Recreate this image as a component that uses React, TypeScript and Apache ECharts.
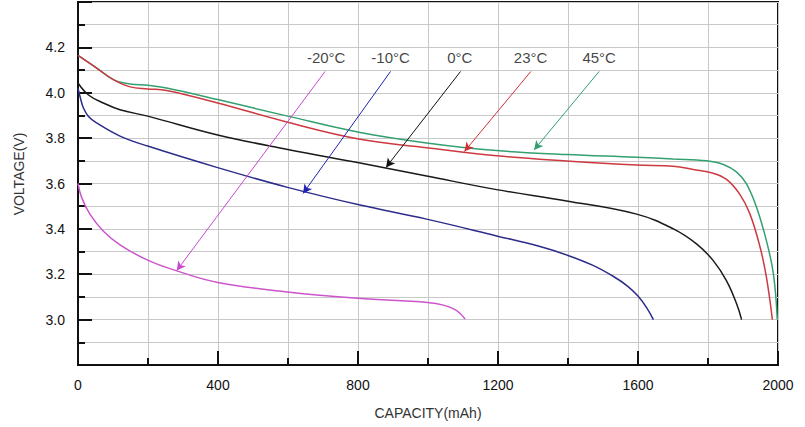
import React, { useEffect, useRef } from "react";
import * as echarts from "echarts";

// Discharge curves: [capacity (mAh), voltage (V)]
const curve45: number[][] = [
  [0, 4.165], [53, 4.11], [101, 4.058], [149, 4.039], [199, 4.033], [253, 4.021],
  [399, 3.97], [599, 3.897], [806, 3.825], [996, 3.779], [1196, 3.745], [1396, 3.728],
  [1596, 3.716], [1700, 3.708], [1796, 3.7], [1844, 3.684], [1882, 3.65], [1910, 3.598],
  [1939, 3.494], [1967, 3.347], [1987, 3.2], [1998, 3.0],
];
const curve23: number[][] = [
  [0, 4.165], [53, 4.109], [101, 4.058], [149, 4.026], [199, 4.017], [253, 4.01],
  [399, 3.955], [599, 3.87], [806, 3.795], [996, 3.758], [1196, 3.722], [1396, 3.699],
  [1596, 3.681], [1701, 3.676], [1758, 3.662], [1815, 3.645], [1853, 3.618], [1891, 3.552],
  [1920, 3.465], [1949, 3.318], [1967, 3.186], [1984, 3.0],
];
const curve0: number[][] = [
  [0, 4.043], [30, 3.99], [72, 3.955], [120, 3.925], [199, 3.897], [399, 3.814],
  [599, 3.75], [806, 3.69], [996, 3.633], [1196, 3.573], [1396, 3.523], [1596, 3.465],
  [1701, 3.4], [1768, 3.333], [1815, 3.26], [1853, 3.171], [1882, 3.069], [1896, 3.0],
];
const curveM10: number[][] = [
  [0, 4.02], [8, 3.97], [15, 3.935], [30, 3.895], [53, 3.867], [120, 3.809],
  [199, 3.765], [399, 3.67], [599, 3.583], [806, 3.505], [996, 3.443], [1196, 3.369],
  [1320, 3.322], [1400, 3.283], [1470, 3.24], [1530, 3.19], [1570, 3.148], [1600, 3.104],
  [1625, 3.052], [1644, 3.0],
];
const curveM20: number[][] = [
  [0, 3.6], [10, 3.54], [34, 3.465], [72, 3.391], [120, 3.33], [199, 3.262],
  [282, 3.215], [399, 3.164], [599, 3.122], [799, 3.094], [999, 3.076], [1044, 3.064],
  [1082, 3.04], [1106, 3.003],
];

const seriesNames = ["45°C", "23°C", "0°C", "-10°C", "-20°C"];
const seriesColors = ["#34a070", "#cc3a40", "#1a1a1a", "#2c2c8a", "#cc55cc"];
const arrowColors = ["#34a070", "#d03038", "#111111", "#2222b0", "#c848d0"];
// label anchor (capacity, voltage)
const labelX = [1489, 1293, 1091, 893, 709];
const labelY = 4.155;
// arrow from -> to
const arrowFrom: number[][] = [[1489, 4.094], [1294, 4.094], [1093, 4.094], [893, 4.094], [706, 4.094]];
const arrowTo: number[][] = [[1303, 3.748], [1104, 3.741], [880, 3.671], [643, 3.556], [282, 3.216]];

const xMin = 0, xMax = 2000, xStep = 400;
const yMin = 2.8, yMax = 4.4, yStep = 0.2;

const FONT = 'Arial, "Liberation Sans", sans-serif';

export default function App() {
  const ref = useRef<HTMLDivElement>(null);
  useEffect(() => {
    if (!ref.current) return;
    const chart = echarts.init(ref.current, undefined, { renderer: "svg" });
    const curves = [curve45, curve23, curve0, curveM10, curveM20];
    const lineSeries = curves.map((c, i) => ({
      type: "line",
      name: seriesNames[i],
      data: c,
      showSymbol: false,
      smooth: 0.4,
      lineStyle: { color: seriesColors[i], width: 1.5 },
      itemStyle: { color: seriesColors[i] },
      z: 3,
      markLine: {
        silent: true,
        animation: false,
        symbol: ["none", "arrow"],
        symbolSize: [7, 9],
        label: { show: false },
        lineStyle: { color: arrowColors[i], width: 1, type: "solid" },
        data: [[{ coord: arrowFrom[i] }, { coord: arrowTo[i] }]],
      },
    }));
    const labelSeries = {
      type: "scatter",
      symbolSize: 0,
      silent: true,
      data: labelX.map((x, i) => [x, labelY, seriesNames[i]]),
      label: {
        show: true,
        position: "inside",
        formatter: (p: any) => p.value[2],
        color: "#111",
        fontSize: 15,
        fontFamily: FONT,
      },
      z: 5,
    };
    chart.setOption({
      animation: false,
      backgroundColor: "#ffffff",
      grid: {
        left: 78,
        right: 27,
        top: 2,
        bottom: 62,
        show: true,
        borderColor: "#111",
        borderWidth: 2,
        backgroundColor: "#fff",
      },
      xAxis: {
        type: "value",
        min: xMin,
        max: xMax,
        interval: xStep,
        axisLine: { show: true, lineStyle: { color: "#111", width: 2 } },
        axisTick: { show: true, inside: true, length: 14, lineStyle: { color: "#111", width: 2 } },
        minorTick: { show: true, splitNumber: 2, length: 7, lineStyle: { color: "#111", width: 2 } },
        splitLine: { show: true, lineStyle: { color: "#c8c8c8", width: 1 } },
        minorSplitLine: { show: true, lineStyle: { color: "#c8c8c8", width: 1 } },
        axisLabel: {
          color: "#111",
          fontSize: 14,
          fontFamily: FONT,
          margin: 13,
          formatter: (v: number) => String(v),
        },
      },
      yAxis: {
        type: "value",
        min: yMin,
        max: yMax,
        interval: yStep,
        axisLine: { show: true, lineStyle: { color: "#111", width: 2 } },
        axisTick: { show: true, inside: true, length: 14, lineStyle: { color: "#111", width: 2 } },
        minorTick: { show: true, splitNumber: 2, length: 7, lineStyle: { color: "#111", width: 2 } },
        splitLine: { show: true, lineStyle: { color: "#c8c8c8", width: 1 } },
        minorSplitLine: { show: true, lineStyle: { color: "#c8c8c8", width: 1 } },
        axisLabel: {
          color: "#111",
          fontSize: 14,
          fontFamily: FONT,
          margin: 13,
          showMinLabel: false,
          showMaxLabel: false,
          formatter: (v: number) => v.toFixed(1),
        },
      },
      graphic: [
        {
          type: "text",
          x: 19,
          y: 174,
          rotation: Math.PI / 2,
          style: {
            text: "VOLTAGE(V)",
            fill: "#333",
            fontSize: 14,
            fontFamily: FONT,
            textAlign: "center",
            textVerticalAlign: "middle",
          },
        },
        {
          type: "text",
          x: 428,
          y: 413,
          style: {
            text: "CAPACITY(mAh)",
            fill: "#333",
            fontSize: 14,
            fontFamily: FONT,
            textAlign: "center",
            textVerticalAlign: "middle",
          },
        },
      ],
      series: [...lineSeries, labelSeries],
    });
    return () => chart.dispose();
  }, []);
  return (
    <div
      ref={ref}
      style={{ position: "fixed", left: 0, top: 0, width: 805, height: 427, background: "#fff" }}
    />
  );
}
